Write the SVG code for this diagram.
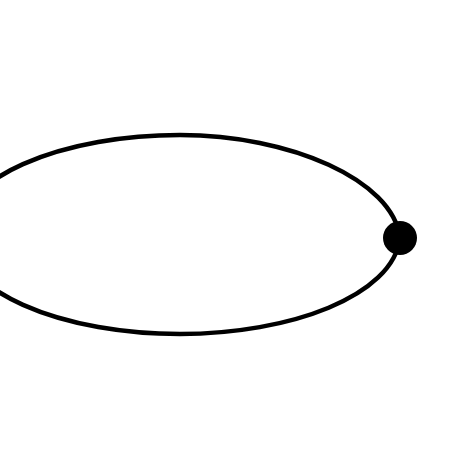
<svg xmlns="http://www.w3.org/2000/svg" width="474" height="474" viewBox="0 0 474 474">
<style>
.edge{fill:none;stroke:#000;stroke-width:4.5}
.node{fill:#000}
</style>
<rect width="474" height="474" fill="#fff"/>
<g id="connectors">
<path class="edge" d="M 400 238 C 393 180, 290 135, 180 135 A 222 99.5 0 0 0 180 334 C 290 334, 393 296, 400 238"/>
</g>
<g id="node1">
<circle class="node" cx="400" cy="238" r="17"/>
</g>
</svg>
